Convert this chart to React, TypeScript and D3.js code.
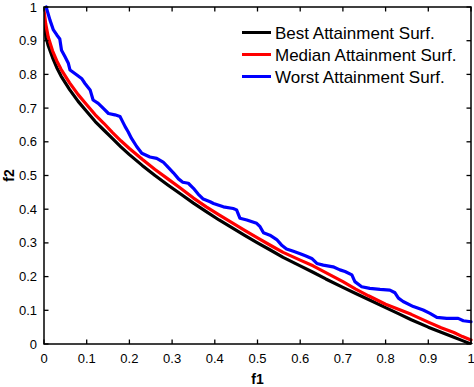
import React from "react";
import * as d3 from "d3";

const ticks = [0, 0.1, 0.2, 0.3, 0.4, 0.5, 0.6, 0.7, 0.8, 0.9, 1];
const tickLabels = ["0", "0.1", "0.2", "0.3", "0.4", "0.5", "0.6", "0.7", "0.8", "0.9", "1"];

const bestF1 = [0, 0.005, 0.01, 0.02, 0.03, 0.04, 0.05, 0.06, 0.08, 0.1, 0.12, 0.14, 0.16, 0.18, 0.2, 0.23, 0.26, 0.29, 0.32, 0.35, 0.38, 0.41, 0.44, 0.47, 0.5, 0.53, 0.56, 0.6, 0.63, 0.66, 0.7, 0.73, 0.76, 0.8, 0.83, 0.86, 0.9, 0.93, 0.96, 0.98, 1.0];
const bestF2 = [0.945, 0.91, 0.885, 0.85, 0.82, 0.795, 0.775, 0.755, 0.72, 0.69, 0.66, 0.635, 0.61, 0.585, 0.562, 0.53, 0.5, 0.472, 0.445, 0.418, 0.393, 0.368, 0.345, 0.322, 0.3, 0.279, 0.257, 0.232, 0.213, 0.193, 0.168, 0.15, 0.132, 0.108, 0.09, 0.072, 0.05, 0.035, 0.02, 0.01, 0.0];

const medianF1 = [0, 0.004, 0.01, 0.02, 0.03, 0.04, 0.05, 0.06, 0.08, 0.1, 0.12, 0.14, 0.16, 0.18, 0.2, 0.23, 0.26, 0.29, 0.32, 0.35, 0.38, 0.41, 0.44, 0.47, 0.5, 0.53, 0.56, 0.6, 0.63, 0.66, 0.7, 0.73, 0.76, 0.8, 0.83, 0.86, 0.9, 0.93, 0.96, 0.98, 1.0];
const medianF2 = [0.99, 0.95, 0.91, 0.87, 0.84, 0.815, 0.795, 0.775, 0.74, 0.71, 0.68, 0.655, 0.628, 0.603, 0.58, 0.548, 0.518, 0.49, 0.462, 0.433, 0.407, 0.383, 0.36, 0.337, 0.315, 0.293, 0.272, 0.249, 0.232, 0.212, 0.185, 0.163, 0.143, 0.118, 0.103, 0.088, 0.065, 0.048, 0.034, 0.022, 0.012];

const worstF1 = [0.005, 0.014, 0.022, 0.03, 0.037, 0.041, 0.049, 0.057, 0.061, 0.077, 0.088, 0.096, 0.108, 0.115, 0.127, 0.139, 0.151, 0.166, 0.178, 0.182, 0.19, 0.197, 0.205, 0.217, 0.229, 0.248, 0.264, 0.279, 0.291, 0.303, 0.315, 0.325, 0.338, 0.35, 0.361, 0.373, 0.389, 0.397, 0.42, 0.443, 0.451, 0.459, 0.475, 0.498, 0.506, 0.514, 0.529, 0.545, 0.556, 0.568, 0.584, 0.6, 0.612, 0.627, 0.639, 0.654, 0.677, 0.693, 0.705, 0.721, 0.728, 0.744, 0.763, 0.787, 0.81, 0.822, 0.83, 0.841, 0.865, 0.888, 0.904, 0.92, 0.943, 0.97, 0.982, 1.0];
const worstF2 = [1.0, 0.961, 0.932, 0.917, 0.905, 0.872, 0.853, 0.833, 0.813, 0.798, 0.788, 0.773, 0.754, 0.724, 0.714, 0.699, 0.684, 0.68, 0.675, 0.665, 0.645, 0.63, 0.61, 0.586, 0.566, 0.555, 0.551, 0.54, 0.524, 0.508, 0.49, 0.48, 0.477, 0.462, 0.445, 0.43, 0.422, 0.417, 0.407, 0.402, 0.398, 0.373, 0.368, 0.358, 0.348, 0.33, 0.323, 0.31, 0.294, 0.282, 0.275, 0.268, 0.262, 0.254, 0.239, 0.234, 0.229, 0.22, 0.215, 0.205, 0.185, 0.17, 0.165, 0.162, 0.16, 0.152, 0.136, 0.126, 0.111, 0.101, 0.091, 0.079, 0.076, 0.076, 0.069, 0.066];

const seriesNames = ["Best Attainment Surf.", "Median Attainment Surf.", "Worst Attainment Surf."];
const seriesColors = ["#000000", "#ff0000", "#0000ff"];

const W = 474, H = 387;
const L = 44, R = 471, T = 7, B = 344;
const FONT = "'Liberation Sans', Arial, Helvetica, sans-serif";

export default function App() {
  const x = d3.scaleLinear().domain([0, 1]).range([L, R]);
  const y = d3.scaleLinear().domain([0, 1]).range([B, T]);
  const line = d3.line<[number, number]>().x(d => x(d[0])).y(d => y(d[1]));
  const series = [
    d3.zip(bestF1, bestF2) as [number, number][],
    d3.zip(medianF1, medianF2) as [number, number][],
    d3.zip(worstF1, worstF2) as [number, number][],
  ];
  const tl = 4.5;
  return (
    <svg width={W} height={H} style={{ position: "absolute", left: 0, top: 0, background: "#fff" }} fontFamily={FONT}>
      <defs>
        <clipPath id="plotclip">
          <rect x={L} y={T - 2} width={R - L + 2} height={B - T + 2} />
        </clipPath>
      </defs>
      <rect x={0} y={0} width={W} height={H} fill="#fff" />
      <g clipPath="url(#plotclip)">
        {series.map((s, i) => (
          <path key={i} d={line(s) || ""} fill="none" stroke={seriesColors[i]} strokeWidth={3.2} strokeLinejoin="round" strokeLinecap="round" />
        ))}
      </g>
      {/* box */}
      <rect x={L} y={T} width={R - L} height={B - T} fill="none" stroke="#000" strokeWidth={1.5} />
      {ticks.map((t, i) => (
        <g key={"t" + i} stroke="#000" strokeWidth={1.3}>
          <line x1={x(t)} x2={x(t)} y1={B} y2={B - tl} />
          <line x1={x(t)} x2={x(t)} y1={T} y2={T + tl} />
          <line x1={L} x2={L + tl} y1={y(t)} y2={y(t)} />
          <line x1={R} x2={R - tl} y1={y(t)} y2={y(t)} />
        </g>
      ))}
      {ticks.map((t, i) => (
        <text key={"xl" + i} x={x(t)} y={363} fontSize={13} textAnchor="middle" fill="#000">{tickLabels[i]}</text>
      ))}
      {ticks.map((t, i) => (
        <text key={"yl" + i} x={37} y={y(t) + 4.5} fontSize={13} textAnchor="end" fill="#000">{tickLabels[i]}</text>
      ))}
      <text x={(L + R) / 2} y={384} fontSize={14} fontWeight="bold" textAnchor="middle">f1</text>
      <text transform={`translate(14,${(T + B) / 2}) rotate(-90)`} fontSize={14} fontWeight="bold" textAnchor="middle">f2</text>
      {seriesNames.map((n, i) => (
        <g key={"lg" + i}>
          <line x1={242} x2={271} y1={32.5 + i * 22} y2={32.5 + i * 22} stroke={seriesColors[i]} strokeWidth={3} />
          <text x={275} y={32.5 + i * 22 + 6} fontSize={17} fill="#000">{n}</text>
        </g>
      ))}
    </svg>
  );
}
